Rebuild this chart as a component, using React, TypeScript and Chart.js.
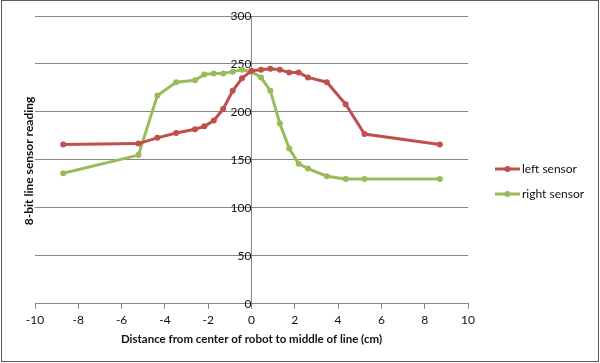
import { useEffect, useRef } from "react";
import { Chart, registerables } from "chart.js";

Chart.register(...registerables);

const xValues = [-8.7, -5.22, -4.35, -3.48, -2.61, -2.18, -1.74, -1.31, -0.87, -0.44, 0, 0.44, 0.87, 1.31, 1.74, 2.18, 2.61, 3.48, 4.35, 5.22, 8.7];
const leftSensor = [166, 167, 173, 178, 182, 185, 191, 203, 222, 235, 243, 244, 245, 244, 241, 241, 236, 231, 208, 177, 166];
const rightSensor = [136, 155, 217, 231, 233, 239, 240, 240, 242, 244, 242, 236, 222, 188, 162, 146, 141, 133, 130, 130, 130];
const seriesNames = ["left sensor", "right sensor"];
const seriesColors = ["#C0504D", "#9BBB59"];
const xTitle = "Distance from center of robot to middle of line (cm)";
const yTitle = "8-bit line sensor reading";

const FONT = "Lato, 'Open Sans', sans-serif";

const decorPlugin = {
  id: "decor",
  afterDraw(chart: any) {
    const ctx = chart.ctx as CanvasRenderingContext2D;
    const area = chart.chartArea;
    ctx.save();
    // outer border
    ctx.strokeStyle = "#5a5a5a";
    ctx.lineWidth = 1;
    ctx.strokeRect(1.5, 0.5, 597, 361);
    // y title
    ctx.fillStyle = "#111";
    ctx.font = `bold 12px ${FONT}`;
    ctx.textAlign = "center";
    ctx.textBaseline = "middle";
    ctx.translate(29, (area.top + area.bottom) / 2 + 1);
    ctx.rotate(-Math.PI / 2);
    ctx.fillText(yTitle, 0, 0);
    ctx.restore();
    // legend
    ctx.save();
    const legendY = [169, 194];
    chart.data.datasets.forEach((ds: any, i: number) => {
      const y = legendY[i];
      ctx.strokeStyle = ds.borderColor;
      ctx.lineWidth = 3;
      ctx.beginPath();
      ctx.moveTo(495, y);
      ctx.lineTo(520, y);
      ctx.stroke();
      ctx.fillStyle = ds.borderColor;
      ctx.beginPath();
      ctx.arc(507.5, y, 3, 0, Math.PI * 2);
      ctx.fill();
      ctx.fillStyle = "#111";
      ctx.font = `12px ${FONT}`;
      ctx.textAlign = "left";
      ctx.textBaseline = "middle";
      ctx.fillText(ds.label, 522, y);
    });
    ctx.restore();
  },
};

export default function App() {
  const ref = useRef<HTMLCanvasElement | null>(null);

  useEffect(() => {
    document.body.style.margin = "0";
    const canvas = ref.current;
    if (!canvas) return;
    const chart = new Chart(canvas, {
      type: "line",
      data: {
        datasets: [leftSensor, rightSensor].map((vals, i) => ({
          label: seriesNames[i],
          data: xValues.map((x, j) => ({ x, y: vals[j] })),
          borderColor: seriesColors[i],
          backgroundColor: seriesColors[i],
          pointBackgroundColor: seriesColors[i],
          pointBorderColor: seriesColors[i],
          pointRadius: 3,
          pointBorderWidth: 0,
          borderWidth: 3,
          tension: 0,
          fill: false,
        })),
      },
      options: {
        animation: false,
        responsive: false,
        maintainAspectRatio: false,
        layout: { padding: { left: 35, right: 132, top: 16, bottom: 13 } },
        plugins: {
          legend: { display: false },
          tooltip: { enabled: false },
        },
        scales: {
          x: {
            type: "linear",
            min: -10,
            max: 10,
            position: "bottom",
            ticks: {
              stepSize: 2,
              color: "#111",
              font: { family: FONT, size: 12 },
              padding: 4,
              maxRotation: 0,
            },
            grid: {
              drawOnChartArea: false,
              drawTicks: true,
              tickLength: 5,
              color: "#868686",
            },
            border: { color: "#868686", width: 1 },
            title: {
              display: true,
              text: xTitle,
              color: "#111",
              font: { family: FONT, size: 11.5, weight: "bold" },
              padding: { top: 1, bottom: 4 },
            },
          },
          y: {
            type: "linear",
            min: 0,
            max: 300,
            position: { x: 0 } as any,
            ticks: {
              stepSize: 50,
              color: "#111",
              font: { family: FONT, size: 12 },
              padding: 6,
            },
            grid: {
              color: "#868686",
              drawTicks: true,
              tickLength: 5,
            },
            border: { color: "#868686", width: 1 },
          },
        },
      },
      plugins: [decorPlugin],
    });
    return () => chart.destroy();
  }, []);

  return <canvas ref={ref} width={600} height={363} style={{ display: "block", width: 600, height: 363 }} />;
}
